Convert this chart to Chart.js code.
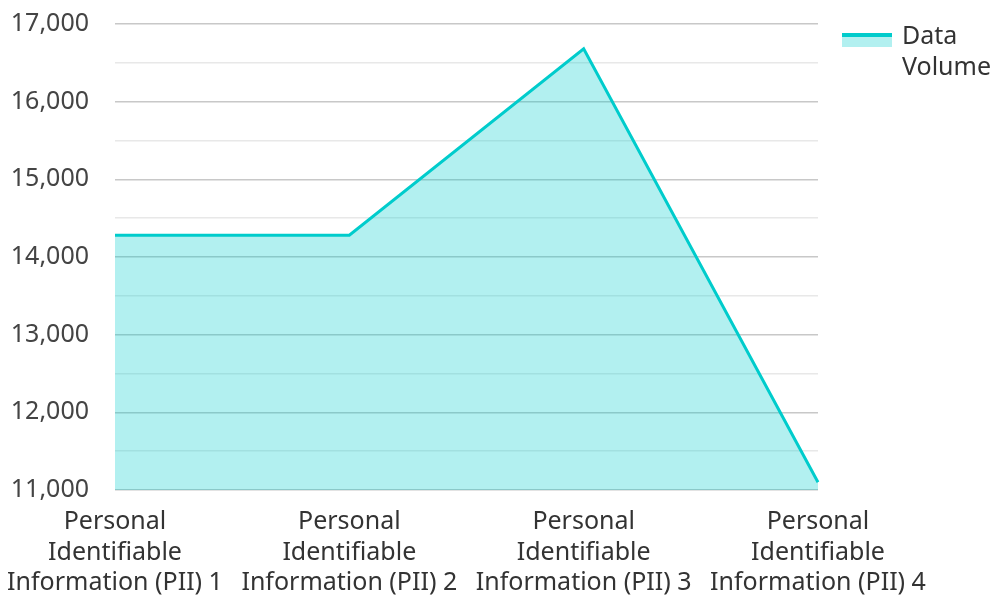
<!DOCTYPE html>
<html>
<head>
<meta charset="utf-8">
<script src="https://cdn.jsdelivr.net/npm/chart.js@4"></script>
<style>
  html, body { margin: 0; padding: 0; background: #fff; }
  #wrap { width: 991px; height: 597px; }
</style>
</head>
<body>
<div id="wrap"><canvas id="grafico"></canvas></div>
<script>
const CATEGORIAS = [
  ['Personal', 'Identifiable', 'Information (PII) 1'],
  ['Personal', 'Identifiable', 'Information (PII) 2'],
  ['Personal', 'Identifiable', 'Information (PII) 3'],
  ['Personal', 'Identifiable', 'Information (PII) 4']
];
const VOLUMEN_DATOS = [14280, 14280, 16680, 11100];
const EJE_Y = { min: 11000, max: 17000, paso: 500 };
const LEYENDA = ['Data', 'Volume'];

const COLOR_LINEA = '#00cccc';
const COLOR_RELLENO = 'rgba(0, 204, 204, 0.3)';
const FUENTE = { family: '"Noto Sans", sans-serif', size: 25 };

// Leyenda dibujada a mano (texto en dos lineas)
const leyendaPlugin = {
  id: 'leyendaManual',
  afterDraw(chart) {
    const ctx = chart.ctx;
    const x = chart.chartArea.right + 24;
    const y = 33;
    ctx.save();
    ctx.fillStyle = COLOR_RELLENO;
    ctx.fillRect(x, y, 50, 14);
    ctx.fillStyle = COLOR_LINEA;
    ctx.fillRect(x, y, 50, 4);
    ctx.fillStyle = '#333';
    ctx.font = `${FUENTE.size}px ${FUENTE.family}`;
    ctx.textBaseline = 'middle';
    LEYENDA.forEach((linea, i) => ctx.fillText(linea, x + 60, 37 + i * 31));
    ctx.restore();
  }
};

new Chart(document.getElementById('grafico').getContext('2d'), {
  type: 'line',
  data: {
    labels: CATEGORIAS,
    datasets: [{
      label: LEYENDA.join(' '),
      data: VOLUMEN_DATOS,
      borderColor: COLOR_LINEA,
      backgroundColor: COLOR_RELLENO,
      borderWidth: 3,
      pointRadius: 0,
      tension: 0,
      fill: 'start'
    }]
  },
  options: {
    responsive: true,
    maintainAspectRatio: false,
    animation: false,
    layout: { padding: { top: 0, right: 173, left: 0, bottom: 0 } },
    plugins: {
      legend: { display: false },
      tooltip: { enabled: false }
    },
    scales: {
      x: {
        offset: false,
        grid: { display: false },
        border: { display: false },
        afterFit: s => { s.height = 107; s.paddingLeft = 100; s.paddingRight = 100; },
        ticks: {
          color: '#333',
          font: { ...FUENTE, lineHeight: 1.22 },
          maxRotation: 0,
          autoSkip: false,
          padding: 9
        }
      },
      y: {
        min: EJE_Y.min,
        max: EJE_Y.max,
        border: { display: false },
        // el padding de las etiquetas no debe empujar el area hacia abajo
        afterFit: s => { s.width = 115; s.paddingTop = 24; s.paddingBottom = 15; },
        grid: {
          drawTicks: false,
          lineWidth: 1.5,
          color: c => (c.tick && c.tick.value % 1000 === 0) ? '#c8c8c8' : '#e8e8e8'
        },
        ticks: {
          stepSize: EJE_Y.paso,
          color: '#444',
          font: FUENTE,
          padding: 26,
          callback: v => v % 1000 === 0 ? v.toLocaleString('en-US') : ''
        }
      }
    }
  },
  plugins: [leyendaPlugin]
});
</script>
</body>
</html>
